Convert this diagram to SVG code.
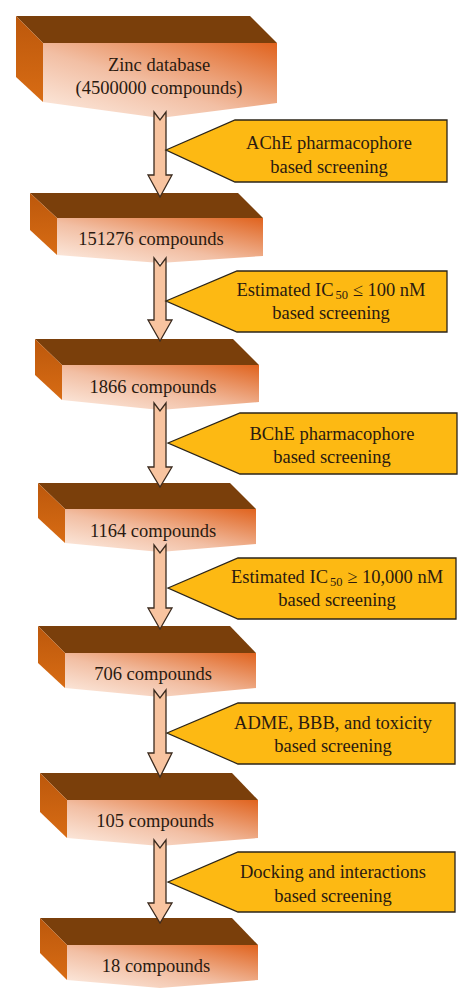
<svg xmlns="http://www.w3.org/2000/svg" width="474" height="1005" viewBox="0 0 474 1005">
  <defs>
    <linearGradient id="front" x1="0" y1="1" x2="1" y2="0">
      <stop offset="0" stop-color="#FDEEE4"/>
      <stop offset="0.45" stop-color="#F2BFA4"/>
      <stop offset="1" stop-color="#E0631E"/>
    </linearGradient>
    <linearGradient id="side" x1="0" y1="0" x2="0" y2="1">
      <stop offset="0" stop-color="#BC580C"/>
      <stop offset="1" stop-color="#D86C14"/>
    </linearGradient>
    <style>
      .top { fill: #7A3F0B; }
      .side { fill: url(#side); }
      .front { fill: url(#front); }
      .lbl { font-family: "Liberation Serif", "Times New Roman", serif; font-size: 18.5px; fill: #2A1A10; text-anchor: middle; }
      .sub { font-size: 12.5px; }
      .call { fill: #FDB913; stroke: #2B2418; stroke-width: 1.3; stroke-linejoin: miter; }
      .arr { fill: #F8C4A0; stroke: #3A2A1E; stroke-width: 1.3; stroke-linejoin: miter; }
    </style>
  </defs>
  <rect width="474" height="1005" fill="#FFFFFF"/>

  <g id="box1">
    <polygon class="top" points="16,16 250,16 277,43 43,43"/>
    <polygon class="side" points="16,16 43,43 43,102 16,77"/>
    <polygon class="front" points="43,43 277,43 277,103 160,118 43,102"/>
    <text class="lbl" x="159" y="71">Zinc database</text>
    <text class="lbl" x="159" y="94">(4500000 compounds)</text>
  </g>

  <g id="box2">
    <polygon class="top" points="30,193 238,193 263,218 57,218"/>
    <polygon class="side" points="30,193 57,218 57,255 30,230"/>
    <polygon class="front" points="57,218 263,218 263,256 160,263 57,255"/>
    <text class="lbl" x="151" y="245">151276 compounds</text>
  </g>

  <g id="box3">
    <polygon class="top" points="35,339 233,339 259,365 62,365"/>
    <polygon class="side" points="35,339 62,365 62,400 35,375"/>
    <polygon class="front" points="62,365 259,365 259,402 160,410 62,400"/>
    <text class="lbl" x="153" y="393">1866 compounds</text>
  </g>

  <g id="box4">
    <polygon class="top" points="38,483 230,483 256,509 65,509"/>
    <polygon class="side" points="38,483 65,509 65,543 38,518"/>
    <polygon class="front" points="65,509 256,509 256,544 160,552 65,543"/>
    <text class="lbl" x="153" y="537">1164 compounds</text>
  </g>

  <g id="box5">
    <polygon class="top" points="38,626 230,626 256,653 65,653"/>
    <polygon class="side" points="38,626 65,653 65,688 38,663"/>
    <polygon class="front" points="65,653 256,653 256,688 160,697 65,688"/>
    <text class="lbl" x="153" y="680">706 compounds</text>
  </g>

  <g id="box6">
    <polygon class="top" points="40,773 232,773 258,800 67,800"/>
    <polygon class="side" points="40,773 67,800 67,838 40,812"/>
    <polygon class="front" points="67,800 258,800 258,838 160,846 67,838"/>
    <text class="lbl" x="155" y="827">105 compounds</text>
  </g>

  <g id="box7">
    <polygon class="top" points="40,918 232,918 258,945 67,945"/>
    <polygon class="side" points="40,918 67,945 67,980 40,953"/>
    <polygon class="front" points="67,945 258,945 258,980 160,988 67,980"/>
    <text class="lbl" x="156" y="972">18 compounds</text>
  </g>

  <g id="connectors">
    <path class="arr" d="M154,112 L160,120 L166,112 L166,175 L172,175 L160,197 L148,175 L154,175 Z"/>
    <path class="arr" d="M154,258 L160,266 L166,258 L166,320 L172,320 L160,341 L148,320 L154,320 Z"/>
    <path class="arr" d="M154,403 L160,411 L166,403 L166,467 L172,467 L160,487 L148,467 L154,467 Z"/>
    <path class="arr" d="M154,545 L160,553 L166,545 L166,608 L172,608 L160,629 L148,608 L154,608 Z"/>
    <path class="arr" d="M154,690 L160,698 L166,690 L166,753 L172,753 L160,777 L148,753 L154,753 Z"/>
    <path class="arr" d="M154,840 L160,848 L166,840 L166,903 L172,903 L160,923 L148,903 L154,903 Z"/>
  </g>

  <g id="step1">
    <polygon class="call" points="166,150 235,120 447,120 447,182 235,182"/>
    <text class="lbl" x="329" y="149">AChE pharmacophore</text>
    <text class="lbl" x="329" y="173">based screening</text>
  </g>

  <g id="step2">
    <polygon class="call" points="166,301 237,271 447,271 447,332 237,332"/>
    <text class="lbl" x="331" y="296">Estimated IC<tspan class="sub" dx="2" dy="2.5">50</tspan><tspan dy="-2.5"> ≤ 100 nM</tspan></text>
    <text class="lbl" x="331" y="319">based screening</text>
  </g>

  <g id="step3">
    <polygon class="call" points="168,443 240,413 457,413 457,474 240,474"/>
    <text class="lbl" x="332" y="440">BChE  pharmacophore</text>
    <text class="lbl" x="332" y="463">based screening</text>
  </g>

  <g id="step4">
    <polygon class="call" points="168,588 238,558 456,558 456,619 238,619"/>
    <text class="lbl" x="337" y="583">Estimated IC<tspan class="sub" dx="2" dy="2.5">50</tspan><tspan dy="-2.5"> ≥ 10,000 nM</tspan></text>
    <text class="lbl" x="337" y="606">based screening</text>
  </g>

  <g id="step5">
    <polygon class="call" points="167,733 238,703 455,703 455,764 238,764"/>
    <text class="lbl" x="333" y="729">ADME, BBB, and toxicity</text>
    <text class="lbl" x="333" y="752">based screening</text>
  </g>

  <g id="step6">
    <polygon class="call" points="168,882 238,852 455,852 455,912 238,912"/>
    <text class="lbl" x="333" y="878">Docking and interactions</text>
    <text class="lbl" x="333" y="902">based screening</text>
  </g>
</svg>
